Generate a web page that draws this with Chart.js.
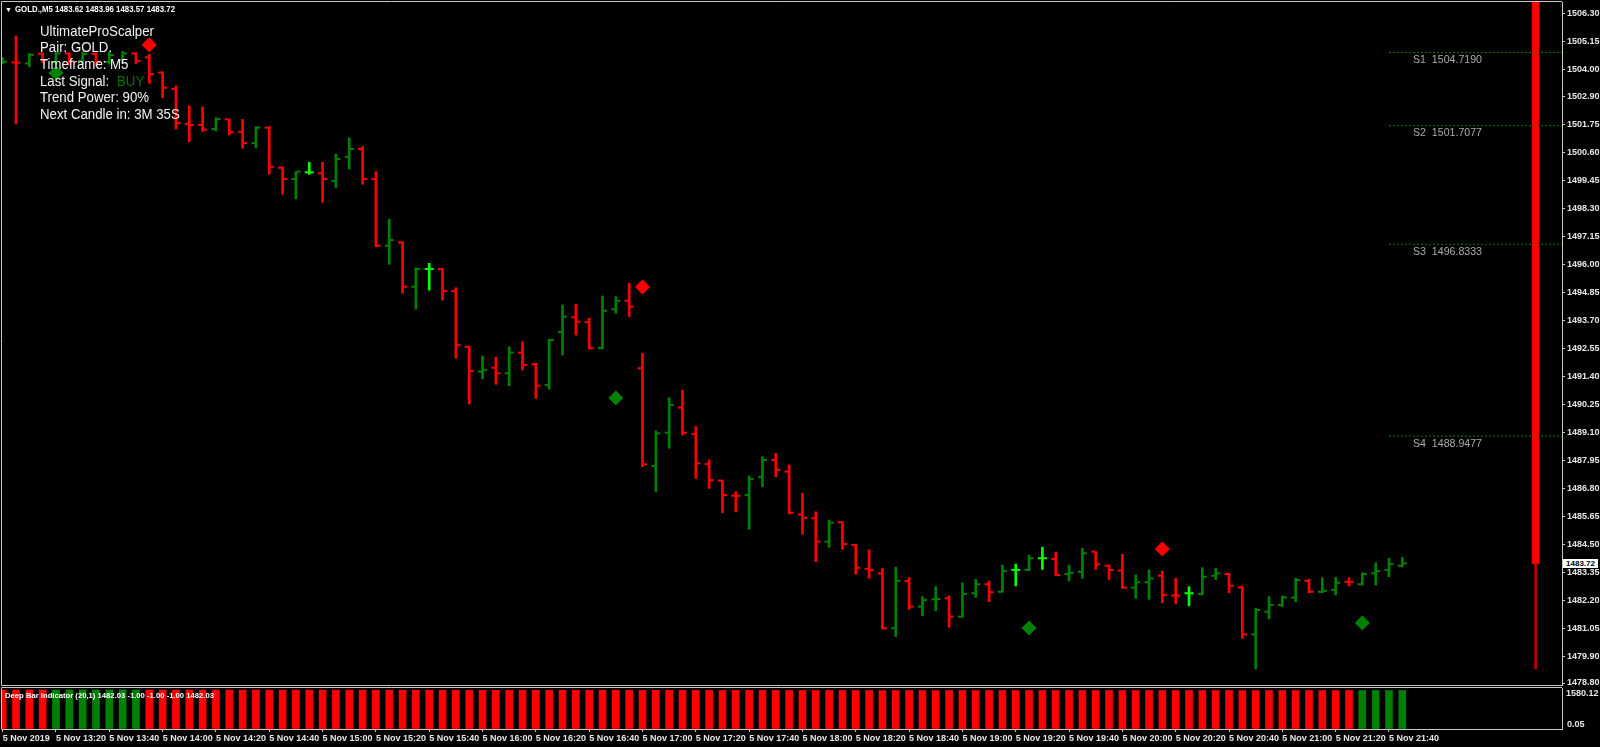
<!DOCTYPE html>
<html>
<head>
<meta charset="utf-8">
<title>GOLD.,M5</title>
<script src="https://cdn.jsdelivr.net/npm/chart.js@4.4.1/dist/chart.umd.min.js"></script>
<style>
html,body{margin:0;padding:0;background:#000;}
#wrap{position:relative;width:1600px;height:747px;overflow:hidden;background:#000;}
#c1{position:absolute;left:0;top:0;}
#c2{position:absolute;left:0;top:687px;}
.txt{position:absolute;white-space:pre;font-family:"Liberation Sans",Arial,sans-serif;color:#fff;transform-origin:0 0;}
</style>
</head>
<body>
<div id="wrap">
<canvas id="c1" width="1600" height="687"></canvas>
<canvas id="c2" width="1600" height="60"></canvas>
</div>
<script>
// ---------- DATA ----------
const symbol = "GOLD.";
const timeframe = "M5";
const timeLabels = ["5 Nov 2019","5 Nov 13:20","5 Nov 13:40","5 Nov 14:00","5 Nov 14:20","5 Nov 14:40","5 Nov 15:00","5 Nov 15:20","5 Nov 15:40","5 Nov 16:00","5 Nov 16:20","5 Nov 16:40","5 Nov 17:00","5 Nov 17:20","5 Nov 17:40","5 Nov 18:00","5 Nov 18:20","5 Nov 18:40","5 Nov 19:00","5 Nov 19:20","5 Nov 19:40","5 Nov 20:00","5 Nov 20:20","5 Nov 20:40","5 Nov 21:00","5 Nov 21:20","5 Nov 21:40"];
const barsPerTimeLabel = 4;
const yTickValues = [1506.30,1505.15,1504.00,1502.90,1501.75,1500.60,1499.45,1498.30,1497.15,1496.00,1494.85,1493.70,1492.55,1491.40,1490.25,1489.10,1487.95,1486.80,1485.65,1484.50,1483.35,1482.20,1481.05,1479.90,1478.80];

const open = [1504.30,1504.31,1504.27,1504.67,1504.33,1504.68,1504.37,1504.66,1504.33,1504.41,1504.68,
1504.52,1503.89,1503.22,1501.78,1501.74,1501.57,1501.97,1501.46,1500.99,1501.63,
1499.98,1499.52,1499.79,1499.75,1499.44,1500.43,1500.75,1499.52,1496.78,1496.91,
1495.09,1495.82,1495.82,1494.91,1492.62,1491.60,1491.76,1491.53,1492.38,1491.90,
1491.05,1493.22,1493.83,1493.63,1492.58,1494.16,1494.51,1491.74,1487.72,1489.09,
1490.12,1489.04,1487.80,1487.12,1486.50,1486.53,1487.26,1487.97,1487.49,1485.73,
1485.57,1484.61,1485.41,1484.47,1483.49,1483.31,1481.05,1482.99,1481.94,1482.24,
1482.28,1481.53,1482.49,1482.86,1482.55,1483.45,1483.45,1483.93,1483.90,1483.28,
1483.37,1484.20,1483.62,1483.42,1482.72,1482.94,1483.21,1482.40,1482.49,1482.46,
1483.21,1483.28,1482.73,1480.80,1481.73,1482.01,1482.31,1483.00,1482.55,1482.62,
1482.96,1482.86,1483.31,1483.45,1483.62];
const high = [1504.50,1505.40,1504.68,1504.70,1504.74,1504.70,1504.74,1504.70,1504.74,1504.76,1504.71,
1504.64,1503.93,1503.34,1502.52,1502.48,1502.04,1501.98,1501.97,1501.67,1501.67,
1500.02,1499.82,1500.20,1500.20,1500.53,1501.21,1500.85,1499.82,1497.86,1496.94,
1495.87,1496.05,1495.85,1495.05,1492.65,1492.24,1492.19,1492.62,1492.83,1491.94,
1492.93,1494.34,1494.37,1493.79,1494.71,1494.68,1495.23,1492.35,1489.16,1490.53,
1490.84,1489.34,1487.97,1487.14,1486.66,1487.31,1488.10,1488.24,1487.76,1486.60,
1485.84,1485.50,1485.43,1484.50,1484.27,1483.51,1483.56,1483.14,1482.35,1482.76,
1482.38,1482.92,1483.06,1482.99,1483.65,1483.69,1484.06,1484.38,1484.17,1483.65,
1484.34,1484.20,1483.65,1484.09,1483.24,1483.45,1483.40,1483.10,1482.76,1483.54,
1483.51,1483.31,1482.79,1481.87,1482.35,1482.38,1483.10,1483.06,1483.13,1483.14,
1483.13,1483.33,1483.74,1483.93,1483.96];
const low = [1504.25,1501.78,1504.13,1504.29,1504.20,1504.20,1504.24,1504.16,1504.24,1504.29,1504.27,
1503.45,1502.86,1501.57,1501.05,1501.47,1501.49,1501.33,1500.78,1500.80,1499.72,
1498.89,1498.70,1499.71,1498.56,1499.16,1499.93,1499.30,1496.73,1496.01,1494.82,
1494.17,1494.95,1494.54,1492.15,1490.27,1491.30,1491.08,1491.02,1491.67,1490.50,
1490.88,1492.28,1493.10,1492.53,1492.53,1494.00,1493.86,1487.69,1486.66,1488.45,
1488.99,1487.21,1486.80,1485.80,1485.84,1485.12,1486.87,1487.28,1485.75,1484.92,
1483.79,1484.38,1484.30,1483.27,1483.10,1481.02,1480.71,1481.83,1481.57,1481.77,
1481.09,1481.50,1482.32,1482.14,1482.53,1482.79,1483.42,1483.47,1483.21,1483.00,
1483.10,1483.47,1483.06,1482.69,1482.28,1482.24,1482.10,1482.07,1481.97,1482.42,
1483.06,1482.51,1480.64,1479.38,1481.43,1481.94,1482.14,1482.51,1482.51,1482.42,
1482.79,1482.83,1482.83,1483.17,1483.57];
const close = [1504.34,1504.30,1504.62,1504.41,1504.68,1504.37,1504.66,1504.33,1504.61,1504.68,1504.37,
1503.83,1503.27,1501.82,1501.74,1501.55,1501.98,1501.44,1500.99,1501.63,1500.02,
1499.52,1499.82,1499.79,1499.52,1500.34,1500.75,1499.52,1496.78,1497.01,1495.09,
1495.82,1495.82,1494.91,1492.69,1491.62,1491.67,1491.53,1492.38,1491.87,1491.02,
1492.90,1493.86,1493.65,1492.56,1494.10,1494.51,1494.27,1487.79,1489.06,1490.23,
1489.09,1487.83,1487.14,1486.53,1486.49,1487.18,1487.97,1487.56,1485.80,1485.59,
1484.61,1485.39,1484.51,1483.54,1483.45,1481.05,1483.00,1481.94,1482.21,1482.25,
1481.53,1482.46,1482.86,1482.53,1483.40,1483.45,1483.93,1483.93,1483.24,1483.33,
1484.13,1483.68,1483.45,1482.72,1482.94,1483.10,1482.42,1482.39,1482.49,1483.17,
1483.31,1482.80,1480.80,1481.80,1482.01,1482.32,1483.03,1482.55,1482.59,1482.92,
1482.95,1483.28,1483.40,1483.69,1483.72];
// bar colour codes: r = down, g = up, l = doji
const barDir = "grgrgrgrggr" + "rrrrrgrrgr" + "rglrggrrgr" + "glrrrgrgrr" + "ggrrggrrgg" + "rrrrrggrrr" + "rgrrrrgrgg" + "rggrglglrg" + "grrrggrrlg" + "grrggggrgg" + "rgggg";

// signal diamonds (bar index, price)
const sellIdx = [11, 48, 87];
const sellPrice = [1505.03, 1495.08, 1484.31];
const buyIdx = [4, 46, 77, 102];
const buyPrice = [1503.87, 1490.52, 1481.06, 1481.27];

// support levels
const sNames = ["S1", "S2", "S3", "S4"];
const sLevels = [1504.7190, 1501.7077, 1496.8333, 1488.9477];
const sStartIdx = 104;

// higher-timeframe candle at right edge
const dIdx = 115;
const dOpen = 1508.50;
const dClose = 1483.72;
const dLow = 1479.38;

// Deep Bar Indicator histogram
const deepBar = [1504.3,1504.3,1504.6,1504.4,1504.7,1504.4,1504.7,1504.3,1504.6,1504.7,1504.4,
1503.8,1503.3,1501.8,1501.7,1501.6,1502.0,1501.4,1501.0,1501.6,1500.0,
1499.5,1499.8,1499.8,1499.5,1500.3,1500.8,1499.5,1496.8,1497.0,1495.1,
1495.8,1495.8,1494.9,1492.7,1491.6,1491.7,1491.5,1492.4,1491.9,1491.0,
1492.9,1493.9,1493.7,1492.6,1494.1,1494.5,1494.3,1487.8,1489.1,1490.2,
1489.1,1487.8,1487.1,1486.5,1486.5,1487.2,1488.0,1487.6,1485.8,1485.6,
1484.6,1485.4,1484.5,1483.5,1483.5,1481.1,1483.0,1481.9,1482.2,1482.3,
1481.5,1482.5,1482.9,1482.5,1483.4,1483.5,1483.9,1483.9,1483.2,1483.3,
1484.1,1483.7,1483.5,1482.7,1482.9,1483.1,1482.4,1482.4,1482.5,1483.2,
1483.3,1482.8,1480.8,1481.8,1482.0,1482.3,1483.0,1482.6,1482.6,1482.9,
1482.9,1483.3,1483.4,1483.7,1483.7];
const deepDir = "rrrrggggggg" + "rrrrrrrrrr" + "rrrrrrrrrr" + "rrrrrrrrrr" + "rrrrrrrrrr" + "rrrrrrrrrr" + "rrrrrrrrrr" + "rrrrrrrrrr" + "rrrrrrrrrr" + "rrrrrrrrrr" + "rgggg";
const deepMax = 1580.12;
const deepMinLabel = "0.05";
const deepLabel = "Deep Bar Indicator (20,1) 1482.03 -1.00 -1.00 -1.00 1482.03";

const infoLines = ["UltimateProScalper", "Pair: GOLD.", "Timeframe: M5", "Last Signal:", "Trend Power: 90%", "Next Candle in: 3M 35S"];
const lastSignal = "BUY";

// ---------- VIEW ----------
const xMin = -0.05, xMax = 116.98;
const yMin = 1478.718, yMax = 1506.793;
const colMap = {r: '#ff0000', g: '#008000', l: '#00ff00'};
const axisCol = '#c8c8c8', labelCol = '#e6e6e6';
const tickFont = {family: '"Liberation Sans Narrow","Liberation Sans",Arial,sans-serif', size: 9, weight: 'bold'};

const idx = open.map((_, i) => i);
const barCols = barDir.split('').map(c => colMap[c]);
const deepCols = deepDir.split('').map(c => colMap[c]);

Chart.defaults.font.family = '"Liberation Sans",Arial,sans-serif';

const framePlugin = {
  id: 'frame',
  afterDraw(chart, args, opts) {
    const {ctx, chartArea: a} = chart;
    ctx.save();
    ctx.strokeStyle = axisCol;
    ctx.lineWidth = 1;
    ctx.beginPath();
    const L = Math.round(a.left) - 0.5, T = Math.round(a.top) - 0.5, R = Math.round(a.right), B = Math.round(a.bottom) + 0.5;
    ctx.moveTo(R, T); ctx.lineTo(L, T); ctx.lineTo(L, B);
    if (opts.bottom) ctx.lineTo(R, B);
    ctx.stroke();
    ctx.restore();
  }
};

const datasets1 = [
  {type: 'line', label: 'Sell', data: sellIdx.map((x, k) => ({x, y: sellPrice[k]})), showLine: false,
   pointStyle: 'rectRot', pointRadius: 7, pointBackgroundColor: '#ff0000', pointBorderColor: '#ff0000', pointBorderWidth: 1},
  {type: 'line', label: 'Buy', data: buyIdx.map((x, k) => ({x, y: buyPrice[k]})), showLine: false,
   pointStyle: 'rectRot', pointRadius: 7, pointBackgroundColor: '#008000', pointBorderColor: '#008000', pointBorderWidth: 1},
  {type: 'line', label: 'Open', data: idx.map(i => ({x: i - 0.19, y: open[i]})), showLine: false,
   pointStyle: 'line', pointRadius: 2, pointBorderWidth: 2, pointBorderColor: barCols, pointBackgroundColor: barCols},
  {type: 'line', label: 'Close', data: idx.map(i => ({x: i + 0.19, y: close[i]})), showLine: false,
   pointStyle: 'line', pointRadius: 2, pointBorderWidth: 2, pointBorderColor: barCols, pointBackgroundColor: barCols},
  {type: 'bar', label: 'HighLow', data: idx.map(i => ({x: i, y: [low[i], high[i]]})), backgroundColor: barCols,
   barThickness: 2, grouped: false}
];
sLevels.forEach((v, k) => datasets1.push({type: 'line', label: sNames[k], data: [{x: sStartIdx, y: v}, {x: xMax, y: v}],
  borderColor: '#008000', borderWidth: 1, borderDash: [2, 2], pointRadius: 0}));
datasets1.push({type: 'bar', label: 'D1 body', data: [{x: dIdx, y: [dClose, dOpen]}], backgroundColor: '#ff0000', barThickness: 7, grouped: false});
datasets1.push({type: 'bar', label: 'D1 wick', data: [{x: dIdx, y: [dLow, dClose]}], backgroundColor: '#c00000', barThickness: 2, grouped: false});

const chart1 = new Chart(document.getElementById('c1'), {
  type: 'bar',
  data: {datasets: datasets1},
  options: {
    responsive: false, animation: false, events: [],
    layout: {autoPadding: false, padding: {left: 2, top: 2, right: 0, bottom: 2}},
    plugins: {legend: {display: false}, tooltip: {enabled: false}, frame: {bottom: true}},
    scales: {
      x: {type: 'linear', display: false, min: xMin, max: xMax, offset: false, grid: {offset: false}},
      y: {position: 'right', min: yMin, max: yMax, beginAtZero: false,
          afterFit(s) { s.width = 38; s.paddingTop = 0; s.paddingBottom = 0; },
          afterBuildTicks(s) { s.ticks = yTickValues.map(v => ({value: v})); },
          ticks: {autoSkip: false, padding: 2, color: labelCol, font: tickFont, callback: v => Number(v).toFixed(2)},
          grid: {drawOnChartArea: false, drawTicks: true, tickLength: 3, color: axisCol},
          border: {display: true, color: axisCol, width: 1}}
    }
  },
  plugins: [framePlugin]
});

const chart2 = new Chart(document.getElementById('c2'), {
  type: 'bar',
  data: {datasets: [{label: 'Deep Bar Indicator', data: idx.map(i => ({x: i, y: deepBar[i]})), backgroundColor: deepCols, barThickness: 7, grouped: false}]},
  options: {
    responsive: false, animation: false, events: [],
    layout: {autoPadding: false, padding: {left: 2, top: 1, right: 0, bottom: 0}},
    plugins: {legend: {display: false}, tooltip: {enabled: false}, frame: {bottom: false}},
    scales: {
      x: {type: 'linear', min: xMin, max: xMax, offset: false,
          afterFit(s) { s.height = 18; s.paddingLeft = 0; s.paddingRight = 0; },
          afterBuildTicks(s) { s.ticks = timeLabels.map((_, k) => ({value: k * barsPerTimeLabel})); },
          ticks: {autoSkip: false, maxRotation: 0, minRotation: 0, align: 'start', padding: 1, color: labelCol, font: tickFont,
                  callback: (v, k) => timeLabels[k]},
          grid: {drawOnChartArea: false, drawTicks: true, tickLength: 3, color: axisCol, offset: false},
          border: {display: true, color: axisCol}},
      y: {position: 'right', min: 0, max: deepMax, beginAtZero: true,
          afterFit(s) { s.width = 38; s.paddingTop = 0; s.paddingBottom = 0; },
          ticks: {display: false},
          grid: {drawOnChartArea: false, drawTicks: false},
          border: {display: true, color: axisCol}}
    }
  },
  plugins: [framePlugin]
});

// ---------- TEXT OVERLAYS ----------
const wrap = document.getElementById('wrap');
function addText(txt, left, top, css) {
  const d = document.createElement('div');
  d.className = 'txt';
  d.textContent = txt;
  d.style.left = left + 'px';
  d.style.top = top + 'px';
  Object.assign(d.style, css || {});
  wrap.appendChild(d);
  return d;
}
function fitW(el, w) {
  const r = el.getBoundingClientRect().width;
  if (r > 0) el.style.transform = 'scaleX(' + (w / r).toFixed(4) + ')';
  return r > 0 ? w / r : 1;
}

// title
addText('\u25BC', 5, 4.5, {fontSize: '7px', lineHeight: '9px'});
const ttl = addText(symbol + ',' + timeframe + ' ' + [open[105], high[105], low[105], close[105]].map(v => v.toFixed(2)).join(' '), 15, 3.6,
  {fontSize: '8.5px', fontWeight: 'bold', lineHeight: '10px'});
fitW(ttl, 160);

// info block
let infoScale = 1;
infoLines.forEach((t, k) => {
  const d = addText(t, 40, 22.5 + k * 16.7, {fontSize: '14px', lineHeight: '16.7px', color: '#f2f2f2'});
  if (k === 0) infoScale = fitW(d, 114);
  else d.style.transform = 'scaleX(' + infoScale.toFixed(4) + ')';
});
const buy = addText(lastSignal, 117, 22.5 + 3 * 16.7, {fontSize: '14px', lineHeight: '16.7px', color: '#007400'});
buy.style.transform = 'scaleX(' + infoScale.toFixed(4) + ')';

// support labels
const ys = chart1.scales.y;
sLevels.forEach((v, k) => {
  const p = ys.getPixelForValue(v);
  const d = addText(sNames[k] + '  ' + v.toFixed(4), 1413, p + 0.5, {fontSize: '11px', lineHeight: '12px', color: '#aaaaaa'});
  fitW(d, 69);
});

// current price box
const pp = ys.getPixelForValue(close[close.length - 1]);
addText(close[close.length - 1].toFixed(2), 1563, pp - 4.5,
  {width: '35px', height: '9px', background: '#ffffff', color: '#000', fontSize: '8px', fontWeight: 'bold', lineHeight: '9px', textAlign: 'center',
   fontFamily: '"Liberation Sans Narrow","Liberation Sans",Arial,sans-serif'});

// sub panel texts
const dl = addText(deepLabel, 5, 690.5, {fontSize: '8px', fontWeight: 'bold', lineHeight: '9px'});
fitW(dl, 209);
const subFont = {fontSize: '9px', fontWeight: 'bold', lineHeight: '10px', color: labelCol, fontFamily: '"Liberation Sans Narrow","Liberation Sans",Arial,sans-serif'};
addText(deepMax.toFixed(2), 1566, 688, subFont);
addText(deepMinLabel, 1567, 718.5, subFont);
</script>
</body>
</html>
